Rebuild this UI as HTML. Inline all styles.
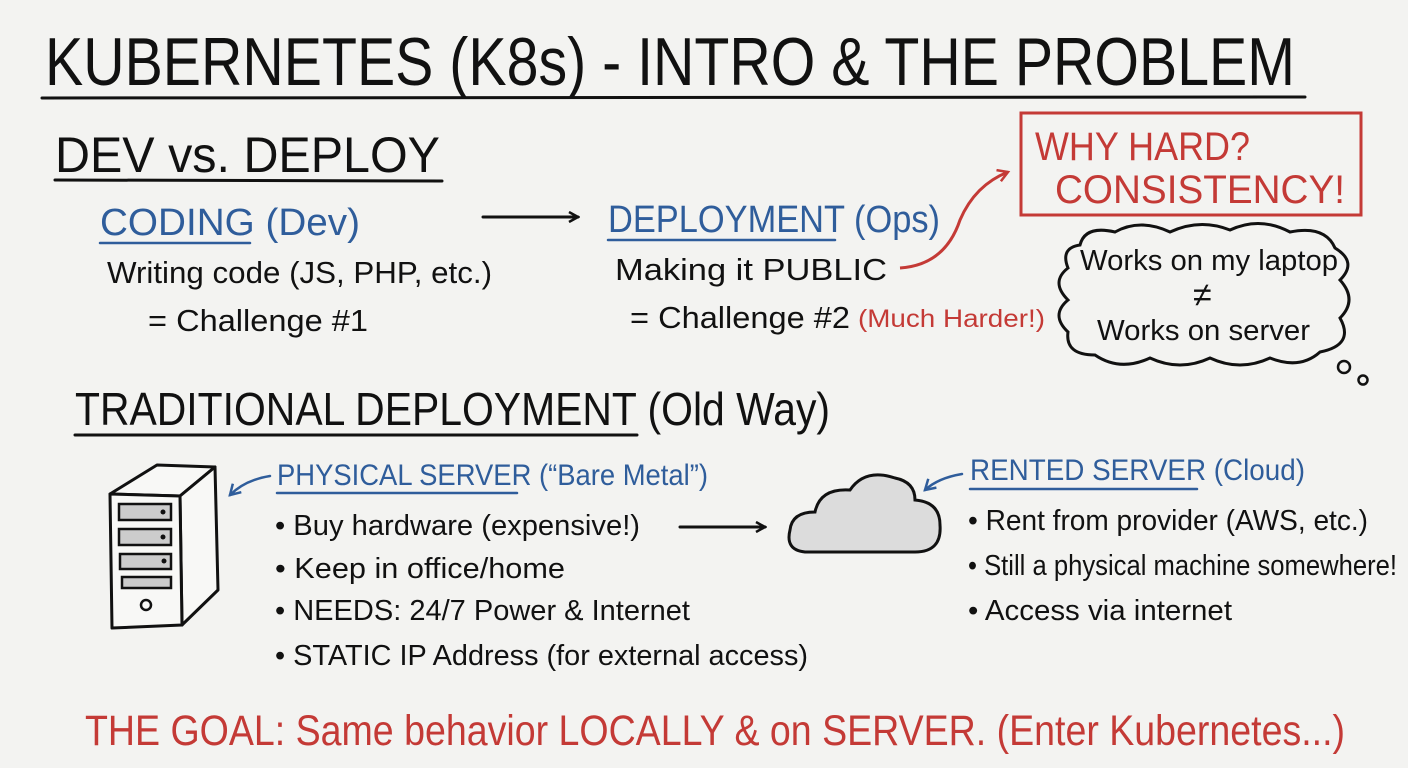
<!DOCTYPE html>
<html><head><meta charset="utf-8"><style>
html,body{margin:0;padding:0;background:#f3f3f1;}
svg{display:block}
text{font-family:"Liberation Sans",sans-serif;}
</style></head><body>
<svg width="1408" height="768" viewBox="0 0 1408 768" xmlns="http://www.w3.org/2000/svg">
<defs>
<marker id="ak" markerWidth="12" markerHeight="12" refX="10" refY="6" orient="auto" markerUnits="userSpaceOnUse"><path d="M1,1 L10,6 L1,11" fill="none" stroke="#111" stroke-width="2.5"/></marker>
<marker id="ar" markerWidth="14" markerHeight="14" refX="11" refY="7" orient="auto" markerUnits="userSpaceOnUse"><path d="M1,1 L11,7 L1,13" fill="none" stroke="#c43a36" stroke-width="2.5"/></marker>
<marker id="ab" markerWidth="14" markerHeight="14" refX="11" refY="7" orient="auto" markerUnits="userSpaceOnUse"><path d="M1,1 L11,7 L1,13" fill="none" stroke="#2f5d9b" stroke-width="2.5"/></marker>
</defs>
<rect width="1408" height="768" fill="#f3f3f1"/>
<g fill="#111">
<text x="45" y="85" font-size="68" textLength="1250" lengthAdjust="spacingAndGlyphs">KUBERNETES (K8s) - INTRO &amp; THE PROBLEM</text>
<text x="55" y="172" font-size="50" textLength="385" lengthAdjust="spacingAndGlyphs">DEV vs. DEPLOY</text>
<text x="107" y="283" font-size="31" textLength="385" lengthAdjust="spacingAndGlyphs">Writing code (JS, PHP, etc.)</text>
<text x="148" y="331" font-size="31" textLength="220" lengthAdjust="spacingAndGlyphs">= Challenge #1</text>
<text x="615" y="280" font-size="31" textLength="272" lengthAdjust="spacingAndGlyphs">Making it PUBLIC</text>
<text x="630" y="328" font-size="31" textLength="220" lengthAdjust="spacingAndGlyphs">= Challenge #2</text>
<text x="1080" y="270" font-size="29" textLength="258" lengthAdjust="spacingAndGlyphs">Works on my laptop</text>
<text x="1193" y="306" font-size="34">≠</text>
<text x="1097" y="340" font-size="29" textLength="213" lengthAdjust="spacingAndGlyphs">Works on server</text>
<text x="75" y="425" font-size="46" textLength="755" lengthAdjust="spacingAndGlyphs">TRADITIONAL DEPLOYMENT (Old Way)</text>
<text x="275" y="535" font-size="29" textLength="365" lengthAdjust="spacingAndGlyphs">• Buy hardware (expensive!)</text>
<text x="275" y="578" font-size="29" textLength="290" lengthAdjust="spacingAndGlyphs">• Keep in office/home</text>
<text x="275" y="620" font-size="29" textLength="415" lengthAdjust="spacingAndGlyphs">• NEEDS: 24/7 Power &amp; Internet</text>
<text x="275" y="665" font-size="29" textLength="533" lengthAdjust="spacingAndGlyphs">• STATIC IP Address (for external access)</text>
<text x="968" y="530" font-size="29" textLength="400" lengthAdjust="spacingAndGlyphs">• Rent from provider (AWS, etc.)</text>
<text x="968" y="575" font-size="29" textLength="429" lengthAdjust="spacingAndGlyphs">• Still a physical machine somewhere!</text>
<text x="968" y="620" font-size="29" textLength="264" lengthAdjust="spacingAndGlyphs">• Access via internet</text>
</g>
<g fill="#2f5d9b">
<text x="100" y="235" font-size="38" textLength="260" lengthAdjust="spacingAndGlyphs">CODING (Dev)</text>
<text x="608" y="232" font-size="38" textLength="332" lengthAdjust="spacingAndGlyphs">DEPLOYMENT (Ops)</text>
<text x="277" y="485" font-size="30" textLength="431" lengthAdjust="spacingAndGlyphs">PHYSICAL SERVER (“Bare Metal”)</text>
<text x="970" y="480" font-size="30" textLength="335" lengthAdjust="spacingAndGlyphs">RENTED SERVER (Cloud)</text>
</g>
<g fill="#c43a36">
<text x="858" y="327" font-size="25" textLength="187" lengthAdjust="spacingAndGlyphs">(Much Harder!)</text>
<text x="1035" y="160" font-size="40" textLength="215" lengthAdjust="spacingAndGlyphs">WHY HARD?</text>
<text x="1055" y="203" font-size="40" textLength="290" lengthAdjust="spacingAndGlyphs">CONSISTENCY!</text>
<text x="85" y="745" font-size="43" textLength="1260" lengthAdjust="spacingAndGlyphs">THE GOAL: Same behavior LOCALLY &amp; on SERVER. (Enter Kubernetes...)</text>
</g>
<g stroke="#111" stroke-width="3" fill="none" stroke-linecap="round">
<path d="M42,98 L1305,97"/>
<path d="M55,180 L442,181"/>
<path d="M75,435 L637,435"/>
<path d="M483,217 L578,217" marker-end="url(#ak)"/>
<path d="M680,527 L765,527" marker-end="url(#ak)"/>
</g>
<g stroke="#2f5d9b" stroke-width="2.5" fill="none" stroke-linecap="round">
<path d="M100,243 L250,243"/>
<path d="M608,240 L835,240"/>
<path d="M277,493 L517,493"/>
<path d="M970,489 L1197,489"/>
<path d="M270,476 Q245,480 230,495" marker-end="url(#ab)"/>
<path d="M962,474 Q938,478 925,490" marker-end="url(#ab)"/>
</g>
<path d="M900,268 Q945,265 960,220 Q975,185 1008,172" stroke="#c43a36" stroke-width="3" fill="none" marker-end="url(#ar)"/>
<rect x="1021" y="113" width="340" height="102" fill="none" stroke="#c43a36" stroke-width="3"/>
<!-- thought bubble -->
<path d="M1080,245 Q1085,225 1115,232 Q1140,218 1170,232 Q1200,218 1230,230 Q1260,216 1290,232 Q1325,225 1335,248 Q1358,262 1340,280 Q1358,300 1340,318 Q1355,345 1320,352 Q1300,370 1270,358 Q1240,372 1210,358 Q1180,372 1150,358 Q1120,372 1095,355 Q1065,355 1068,332 Q1050,315 1068,300 Q1050,282 1068,268 Q1060,248 1080,245 Z" fill="none" stroke="#111" stroke-width="3"/>
<circle cx="1344" cy="367" r="6" fill="none" stroke="#111" stroke-width="2.5"/>
<circle cx="1363" cy="380" r="4.5" fill="none" stroke="#111" stroke-width="2.5"/>
<!-- server -->
<g stroke="#111" stroke-width="3" fill="#f8f8f6" stroke-linejoin="round">
<path d="M110,494 L157,465 L215,467 L180,496 Z"/>
<path d="M180,496 L215,467 L218,590 L182,625 Z"/>
<path d="M110,494 L180,496 L182,625 L112,628 Z"/>
</g>
<g stroke="#111" stroke-width="2.5" fill="#ccc">
<rect x="119" y="504" width="52" height="16"/>
<rect x="119" y="529" width="52" height="16"/>
<rect x="120" y="554" width="51" height="15"/>
<rect x="122" y="577" width="49" height="11"/>
</g>
<g fill="#111"><circle cx="163" cy="512" r="2.5"/><circle cx="163" cy="537" r="2.5"/><circle cx="164" cy="561" r="2.5"/></g>
<circle cx="146" cy="605" r="5" fill="none" stroke="#111" stroke-width="2.5"/>
<!-- cloud -->
<path d="M805,552 Q785,550 790,530 Q792,512 815,512 Q820,488 850,490 Q865,468 895,478 Q915,482 915,500 Q940,502 940,525 Q942,552 915,552 Z" fill="#dcdcdc" stroke="#111" stroke-width="3"/>
</svg>
</body></html>
